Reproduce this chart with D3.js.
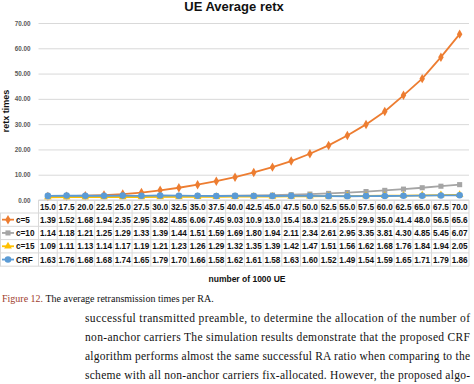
<!DOCTYPE html>
<html>
<head>
<meta charset="utf-8">
<script src="https://cdn.jsdelivr.net/npm/d3@7"></script>
<style>
  body { margin: 0; background: #fff; }
  svg { display: block; }
</style>
</head>
<body>
<div id="container"></div>
<script>
/* DATA */
const categories = ["15.0","17.5","20.0","22.5","25.0","27.5","30.0","32.5","35.0","37.5","40.0","42.5",
  "45.0","47.5","50.0","52.5","55.0","57.5","60.0","62.5","65.0","67.5","70.0"];
const seriesNames = ["c=5", "c=10", "c=15", "CRF"];
const c5  = [1.39,1.52,1.68,1.94,2.35,2.95,3.82,4.85,6.06,7.45,9.03,10.9,13.0,15.4,18.3,21.6,25.5,29.9,35.0,41.4,48.0,56.5,65.6];
const c10 = [1.14,1.18,1.21,1.25,1.29,1.33,1.39,1.44,1.51,1.59,1.69,1.80,1.94,2.11,2.34,2.61,2.95,3.35,3.81,4.30,4.85,5.45,6.07];
const c15 = [1.09,1.11,1.13,1.14,1.17,1.19,1.21,1.23,1.26,1.29,1.32,1.35,1.39,1.42,1.47,1.51,1.56,1.62,1.68,1.76,1.84,1.94,2.05];
const crf = [1.63,1.76,1.68,1.68,1.74,1.65,1.79,1.70,1.66,1.58,1.62,1.61,1.58,1.63,1.60,1.52,1.49,1.54,1.59,1.65,1.71,1.79,1.86];
const cellText = [
  ["1.39","1.52","1.68","1.94","2.35","2.95","3.82","4.85","6.06","7.45","9.03","10.9","13.0","15.4","18.3","21.6","25.5","29.9","35.0","41.4","48.0","56.5","65.6"],
  ["1.14","1.18","1.21","1.25","1.29","1.33","1.39","1.44","1.51","1.59","1.69","1.80","1.94","2.11","2.34","2.61","2.95","3.35","3.81","4.30","4.85","5.45","6.07"],
  ["1.09","1.11","1.13","1.14","1.17","1.19","1.21","1.23","1.26","1.29","1.32","1.35","1.39","1.42","1.47","1.51","1.56","1.62","1.68","1.76","1.84","1.94","2.05"],
  ["1.63","1.76","1.68","1.68","1.74","1.65","1.79","1.70","1.66","1.58","1.62","1.61","1.58","1.63","1.60","1.52","1.49","1.54","1.59","1.65","1.71","1.79","1.86"]
];
const yTicks = [0, 10, 20, 30, 40, 50, 60, 70];
const title = "UE Average retx";
const yTitle = "retx times";
const xTitle = "number of 1000 UE";
const captionLabel = "Figure 12.";
const captionText = " The average retransmission times per RA.";
const bodyLines = [
  "successful transmitted preamble, to determine the allocation of the number of",
  "non-anchor carriers The simulation results demonstrate that the proposed CRF",
  "algorithm performs almost the same successful RA ratio when comparing to the",
  "scheme with all non-anchor carriers fix-allocated. However, the proposed algo-"
];

/* CONSTANTS */
const width = 474, height = 384;
const colors = ["#ED7D31", "#A5A5A5", "#FFC000", "#5B9BD5"];
const symbols = [d3.symbolDiamond, d3.symbolSquare, d3.symbolTriangle, d3.symbolCircle];
const symSizes = [26, 26, 26, 34];
const values = [c5, c10, c15, crf];
const chartFont = "'Liberation Sans', Arial, sans-serif";
const serif = "'Liberation Serif', 'DejaVu Serif', serif";

const svg = d3.select("#container").append("svg")
  .attr("width", width)
  .attr("height", height);

const x = d3.scaleBand().domain(categories).range([38.5, 469]);
const y = d3.scaleLinear().domain([0, 70]).range([200, 23]);

// gridlines + tick labels
const yAxis = svg.append("g")
  .attr("transform", "translate(38.5,0)")
  .call(d3.axisLeft(y).tickValues(yTicks).tickFormat(d3.format(".2f"))
    .tickSize(-(469 - 38.5)).tickPadding(8));
yAxis.select(".domain").remove();
yAxis.selectAll(".tick line").attr("stroke", "#D9D9D9").attr("stroke-width", 1);
yAxis.selectAll(".tick text")
  .attr("fill", "#595959")
  .style("font-family", chartFont)
  .style("font-size", "6.3px")
  .style("font-weight", "bold");

// title
svg.append("text")
  .attr("x", 234).attr("y", 10.5)
  .attr("text-anchor", "middle")
  .style("font-family", chartFont).style("font-weight", "bold").style("font-size", "13px")
  .attr("fill", "#111")
  .text(title);

svg.append("text")
  .attr("transform", "translate(8.5,111) rotate(-90)")
  .attr("text-anchor", "middle")
  .style("font-family", chartFont).style("font-weight", "bold").style("font-size", "9px")
  .attr("fill", "#111")
  .text(yTitle);

// series lines + markers
const line = d3.line()
  .x((d, i) => x(categories[i]) + x.bandwidth() / 2)
  .y(d => y(d));

values.forEach((vals, s) => {
  svg.append("path")
    .datum(vals)
    .attr("fill", "none")
    .attr("stroke", colors[s])
    .attr("stroke-width", 1.8)
    .attr("d", line);
  svg.append("g").selectAll("path")
    .data(vals)
    .join("path")
    .attr("transform", (d, i) => `translate(${x(categories[i]) + x.bandwidth() / 2},${y(d)})`)
    .attr("d", d3.symbol().type(symbols[s]).size(symSizes[s]))
    .attr("fill", colors[s]);
});

// data table
const rowTop = 200, headH = 13, rowH = 13.3;
const grid = svg.append("g").attr("stroke", "#D9D9D9").attr("stroke-width", 1);
grid.append("line").attr("x1", 38.5).attr("x2", 469).attr("y1", rowTop).attr("y2", rowTop);
d3.range(5).forEach(r => {
  const yy = rowTop + headH + r * rowH;
  grid.append("line").attr("x1", 0).attr("x2", 469).attr("y1", yy).attr("y2", yy);
});
categories.concat(["end"]).forEach(c => {
  const xx = c === "end" ? 469 : x(c);
  grid.append("line").attr("x1", xx).attr("x2", xx)
    .attr("y1", rowTop).attr("y2", rowTop + headH + 4 * rowH);
});
grid.append("line").attr("x1", 0.5).attr("x2", 0.5)
  .attr("y1", rowTop + headH).attr("y2", rowTop + headH + 4 * rowH);

svg.append("g").selectAll("text")
  .data(categories)
  .join("text")
  .attr("x", d => x(d) + x.bandwidth() / 2)
  .attr("y", rowTop + headH / 2 + 3)
  .attr("text-anchor", "middle")
  .style("font-family", chartFont).style("font-weight", "bold").style("font-size", "8.2px")
  .attr("fill", "#111")
  .text(d => d);

cellText.forEach((row, r) => {
  const cy = rowTop + headH + r * rowH + rowH / 2;
  svg.append("g").selectAll("text")
    .data(row)
    .join("text")
    .attr("x", (d, i) => x(categories[i]) + x.bandwidth() / 2)
    .attr("y", cy + 3)
    .attr("text-anchor", "middle")
    .style("font-family", chartFont).style("font-weight", "bold").style("font-size", "8.2px")
    .attr("fill", "#111")
    .text(d => d);
  // legend key
  svg.append("line").attr("x1", 2).attr("x2", 14).attr("y1", cy).attr("y2", cy)
    .attr("stroke", colors[r]).attr("stroke-width", 1.8);
  svg.append("path")
    .attr("transform", `translate(8,${cy})`)
    .attr("d", d3.symbol().type(symbols[r]).size(symSizes[r]))
    .attr("fill", colors[r]);
  svg.append("text")
    .attr("x", 16).attr("y", cy + 3)
    .style("font-family", chartFont).style("font-weight", "bold").style("font-size", "8.2px")
    .attr("fill", "#111")
    .text(seriesNames[r]);
});

svg.append("text")
  .attr("x", 247).attr("y", 282)
  .attr("text-anchor", "middle")
  .style("font-family", chartFont).style("font-weight", "bold").style("font-size", "8.5px")
  .attr("fill", "#111")
  .text(xTitle);

// caption
const cap = svg.append("text")
  .attr("x", 2).attr("y", 302)
  .style("font-family", serif).style("font-size", "10px");
cap.append("tspan").attr("fill", "#A0402E").text(captionLabel);
cap.append("tspan").attr("fill", "#111").text(captionText);

// body text
svg.append("g").selectAll("text")
  .data(bodyLines)
  .join("text")
  .attr("x", 85)
  .attr("y", (d, i) => 322 + i * 19)
  .attr("textLength", 385)
  .attr("lengthAdjust", "spacing")
  .style("font-family", serif).style("font-size", "11.5px")
  .attr("fill", "#111")
  .text(d => d);
</script>
</body>
</html>
